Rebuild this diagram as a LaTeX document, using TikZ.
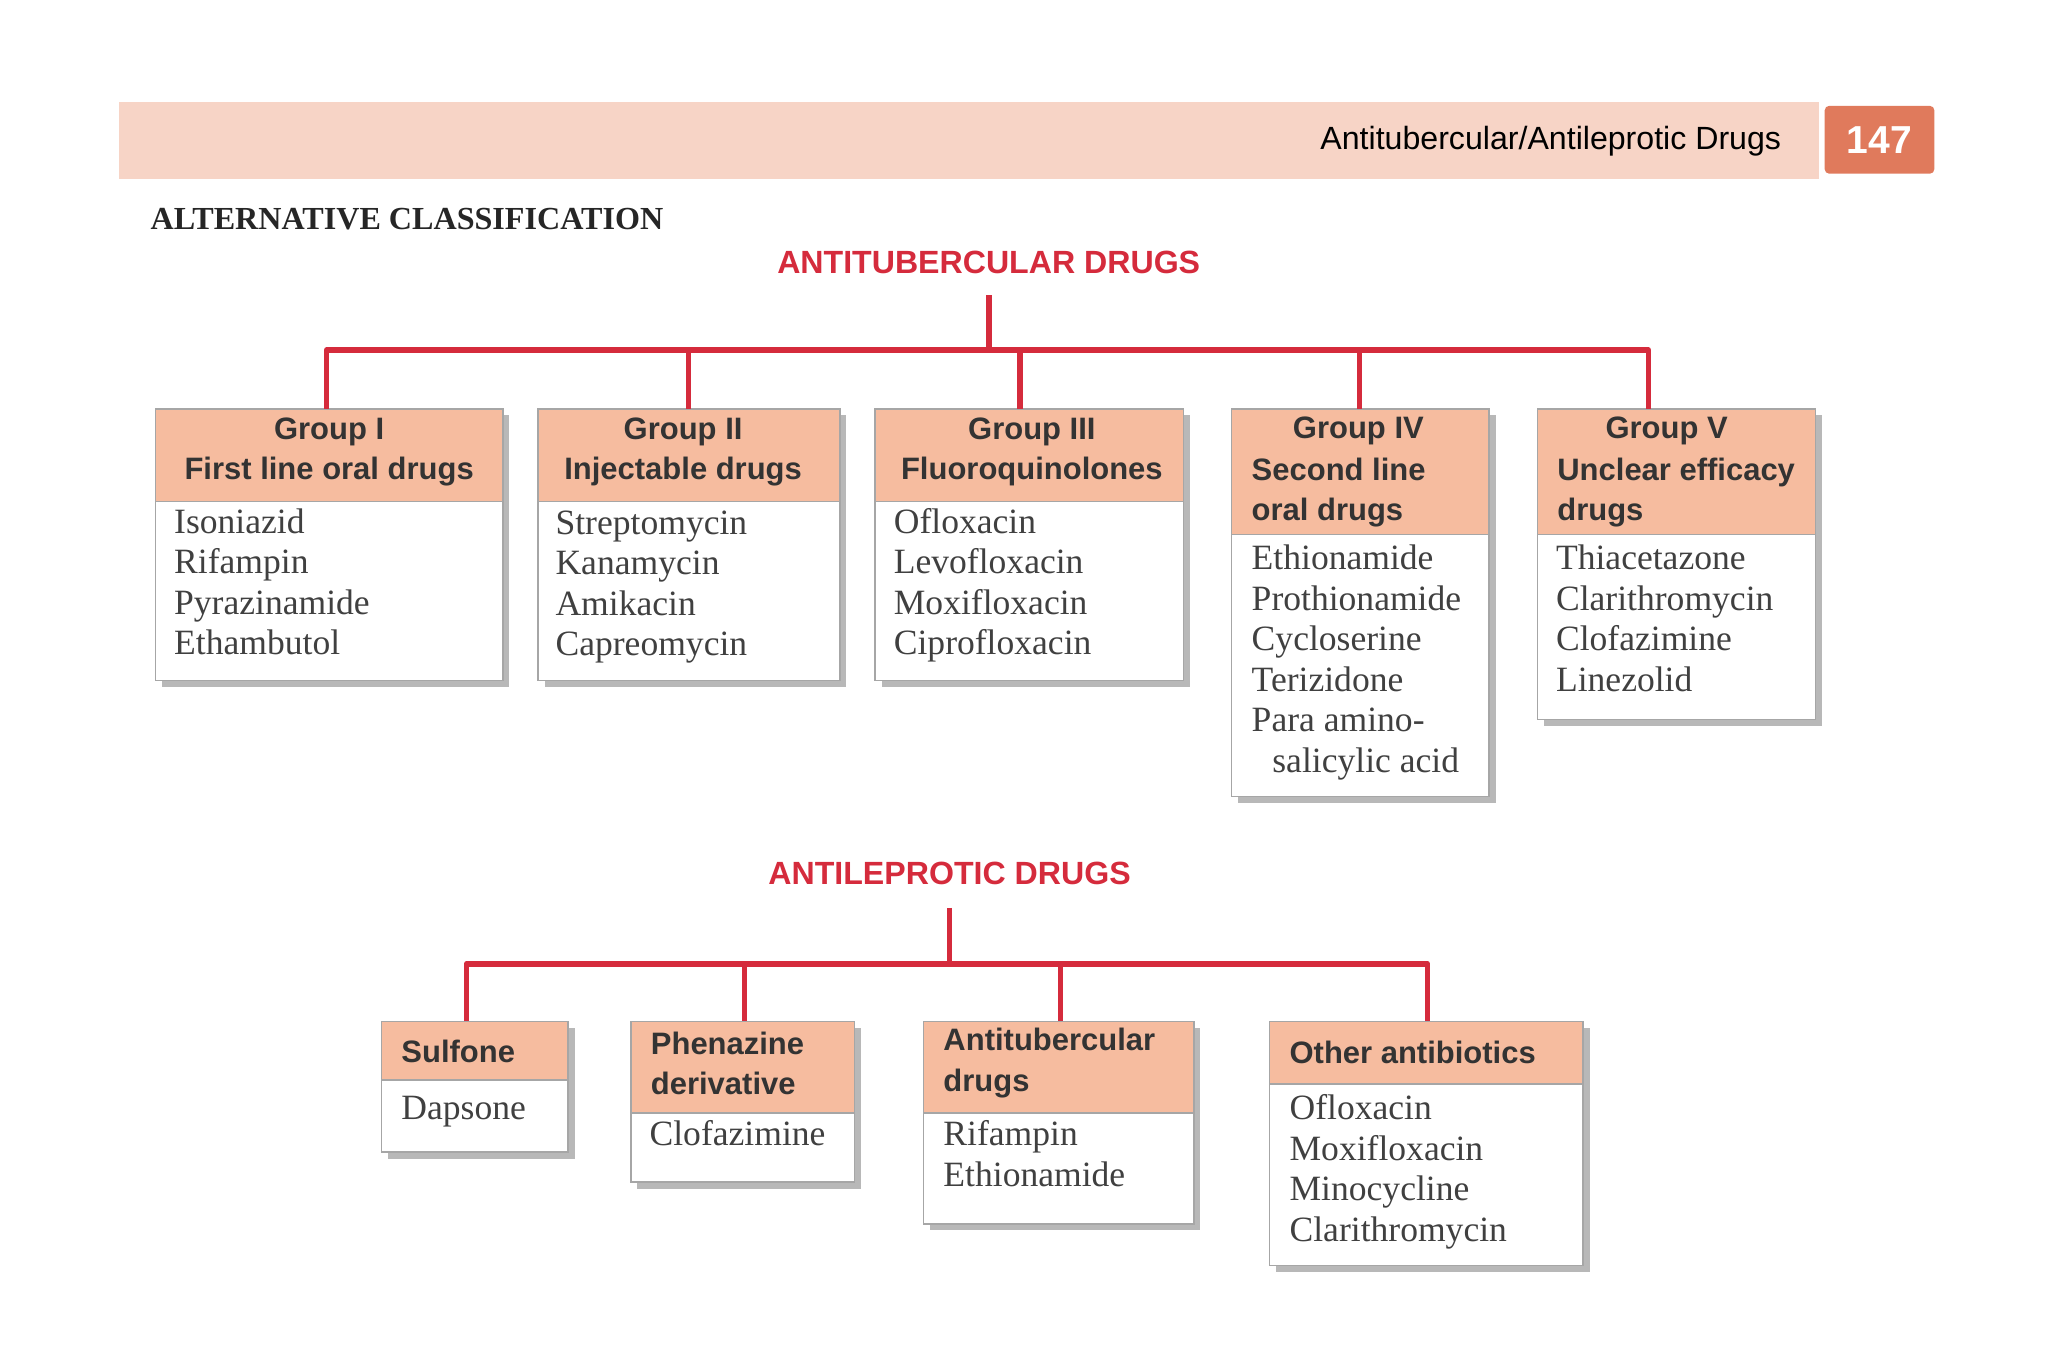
\documentclass[tikz,border=0pt]{standalone}
\usepackage{fontspec}
\setmainfont{Liberation Serif}
\setsansfont{Liberation Sans}
\usepackage{tikz}
\usetikzlibrary{arrows.meta}

\definecolor{barc}{HTML}{F7D4C6}
\definecolor{numc}{HTML}{E07A5C}
\definecolor{headc}{HTML}{F6BC9F}
\definecolor{treec}{HTML}{D52B3C}
\definecolor{shadowc}{HTML}{B8B8B8}

\tikzset{
  boxline/.style={draw=gray!70, line width=0.6pt},
  branch/.style={treec, line width=2.4pt},
  headtxt/.style={font=\sffamily\bfseries\fontsize{13.5}{17.6}\selectfont, text=black!80, align=center, inner sep=0pt},
  item/.style={font=\fontsize{15.5}{17.6}\selectfont, text=black!75, anchor=west, inner sep=0pt, text height=10pt, text depth=3pt},
  title/.style={font=\sffamily\bfseries\fontsize{14}{17}\selectfont, text=treec, inner sep=0pt}
}

% box: name, x1, y1, x2, header bottom, body bottom, drop x
\newcommand{\drugbox}[7]{%
  \fill[shadowc] (#2+5,#3+5) rectangle (#4+5,#6+5);
  \draw[boxline,fill=white] (#2,#3) rectangle (#4,#6);
  \draw[boxline,fill=headc] (#2,#3) rectangle (#4,#5);
  \coordinate (#1) at (#7,#3);
}

\begin{document}
\begin{tikzpicture}[x=0.02cm, y=-0.02cm]
\useasboundingbox (0,0) rectangle (1568,1032);

% page header
\fill[barc] (91,78) rectangle (1393,137);
\fill[numc, rounded corners=2pt] (1397,81) rectangle (1481,133);
\node[font=\sffamily\fontsize{14}{17}\selectfont, anchor=east, inner sep=0pt] (bartxt) at (1364,108) {Antitubercular/Antileprotic Drugs};
\node[font=\sffamily\bfseries\fontsize{17}{20}\selectfont, text=white, inner sep=0pt] (pagenum) at (1439,107) {147};
\node[font=\bfseries\fontsize{14}{16}\selectfont, anchor=west, inner sep=0pt, text=black!85] (alt) at (115,168) {ALTERNATIVE CLASSIFICATION};

% antitubercular tree
\node[title] (tb) at (757,201) {ANTITUBERCULAR DRUGS};
\drugbox{g1}{119}{313}{385}{384}{521}{250}
\drugbox{g2}{412}{313}{643}{384}{521}{527}
\drugbox{g3}{670}{313}{906}{384}{521}{781}
\drugbox{g4}{943}{313}{1140}{409}{610}{1041}
\drugbox{g5}{1177}{313}{1390}{409}{551}{1262}
\coordinate (tbjoin) at (757,268);
\draw[branch] (757,226) -- (tbjoin);
\draw[branch, line join=round] (g1) -- (g1 |- tbjoin) -- (g5 |- tbjoin) -- (g5);
\foreach \g in {g2,g3,g4} \draw[branch] (\g |- tbjoin) -- (\g);

\node[headtxt] (h1) at (252,346) {Group I\\First line oral drugs};
\node[headtxt] (h2) at (523,346) {Group II\\Injectable drugs};
\node[headtxt] (h3) at (790,346) {Group III\\Fluoroquinolones};
\node[headtxt] (h4) at (1040,330) {Group IV};
\node[headtxt, align=left, anchor=west] (h4b) at (958,377) {Second line\\oral drugs};
\node[headtxt] (h5) at (1276,330) {Group V};
\node[headtxt, align=left, anchor=west] (h5b) at (1192,377) {Unclear efficacy\\drugs};

\foreach \t [count=\i] in {Isoniazid,Rifampin,Pyrazinamide,Ethambutol}
  \node[item] at (133,402+31*\i-31) {\t};
\foreach \t [count=\i] in {Streptomycin,Kanamycin,Amikacin,Capreomycin}
  \node[item] at (425,403+31*\i-31) {\t};
\foreach \t [count=\i] in {Ofloxacin,Levofloxacin,Moxifloxacin,Ciprofloxacin}
  \node[item] at (684,402+31*\i-31) {\t};
\foreach \t [count=\i] in {Ethionamide,Prothionamide,Cycloserine,Terizidone,Para amino-,{\hspace{9pt}salicylic acid}}
  \node[item] at (958,430+31*\i-31) {\t};
\foreach \t [count=\i] in {Thiacetazone,Clarithromycin,Clofazimine,Linezolid}
  \node[item] at (1191,430+31*\i-31) {\t};

% antileprotic tree
\node[title] (lp) at (727,669) {ANTILEPROTIC DRUGS};
\drugbox{l1}{292}{782}{435}{827}{882}{357}
\drugbox{l2}{483}{782}{654}{852}{905}{570}
\drugbox{l3}{707}{782}{914}{852}{937}{812}
\drugbox{l4}{972}{782}{1212}{830}{969}{1093}
\coordinate (lpjoin) at (727,738);
\draw[branch] (727,695) -- (lpjoin);
\draw[branch, line join=round] (l1) -- (l1 |- lpjoin) -- (l4 |- lpjoin) -- (l4);
\foreach \l in {l2,l3} \draw[branch] (\l |- lpjoin) -- (\l);

\node[headtxt, anchor=west] (s1) at (307,805) {Sulfone};
\node[headtxt, align=left, anchor=west] (s2) at (498,814) {Phenazine\\derivative};
\node[headtxt, align=left, anchor=west] (s3) at (722,814) {Antitubercular\\drugs};
\node[headtxt, anchor=west] (s4) at (987,806) {Other antibiotics};

\node[item] at (307,851) {Dapsone};
\node[item] at (497,871) {Clofazimine};
\foreach \t [count=\i] in {Rifampin,Ethionamide}
  \node[item] at (722,871+31*\i-31) {\t};
\foreach \t [count=\i] in {Ofloxacin,Moxifloxacin,Minocycline,Clarithromycin}
  \node[item] at (987,851+31*\i-31) {\t};
\end{tikzpicture}
\end{document}
